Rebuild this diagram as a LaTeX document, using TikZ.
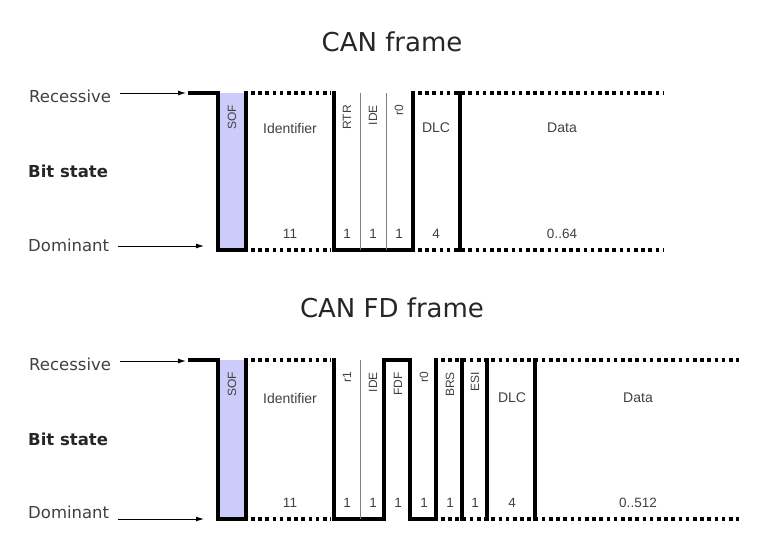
\documentclass[tikz,border=0pt]{standalone}
\usepackage{fontspec}
\setmainfont{Liberation Sans}
\newfontfamily\verdana{DejaVu Sans}
\usetikzlibrary{arrows.meta,positioning}
\definecolor{sofblue}{RGB}{204,204,250}
\definecolor{txtgray}{RGB}{64,64,64}

\begin{document}
\begin{tikzpicture}[
  x=1pt, y=-1pt,
  title/.style={font=\verdana\fontsize{26}{30}\selectfont, text=black!85},
  side/.style={font=\verdana\fontsize{16.5}{19}\selectfont, text=black!75, anchor=west, inner sep=0pt},
  sidebold/.style={side, font=\verdana\bfseries\fontsize{16.5}{19}\selectfont, text=black!85},
  field/.style={font=\fontsize{14}{16}\selectfont, text=txtgray},
  vfield/.style={font=\fontsize{12}{14}\selectfont, text=txtgray, rotate=90, anchor=east, inner sep=0pt},
  num/.style={font=\fontsize{13.5}{16}\selectfont, text=txtgray},
  level/.style={line width=3.6pt, line cap=rect, line join=miter},
  anylvl/.style={line width=3.6pt, dash pattern=on 3.5pt off 3.7pt},
  sep/.style={gray, line width=0.8pt},
  arr/.style={-{Latex[length=8pt, width=5pt]}, line width=1pt}
]
\useasboundingbox (0,0) rectangle (768,543);

% CAN frame
\node[title] (title1) at (392,42) {CAN frame};
\node[side] (rec1) at (29,96) {Recessive};
\node[sidebold] (bit1) at (28,171) {Bit state};
\node[side] (dom1) at (28,245) {Dominant};
\coordinate (recin1) at (186,93);
\coordinate (domin1) at (204,246);
\draw[arr] (rec1.east |- recin1) ++(9,0) -- (recin1);
\draw[arr] (dom1.east |- domin1) ++(9,0) -- (domin1);

\fill[sofblue] (218,93) rectangle (246,250);
\draw[level] (190,93) -- (218,93) -- (218,250) -- (246,250) -- (246,93);
\draw[anylvl] (251,93) -- (331,93) (251,250) -- (331,250);
\draw[level] (334,93) -- (334,250) -- (413,250) -- (413,93);
\draw[sep] (360,93) -- (360,250) (386,93) -- (386,250);
\draw[anylvl] (418,93) -- (663,93) (418,250) -- (663,250);
\draw[level] (460,93) -- (460,250);

\node[vfield] (sof1) at (232,105) {SOF};
\node[field] (id1) at (290,128) {Identifier};
\node[vfield] (rtr1) at (347,105) {RTR};
\node[vfield] (ide1) at (373,105) {IDE};
\node[vfield] (rzero1) at (399,105) {r0};
\node[field] (dlc1) at (436,128) {DLC};
\node[field] (data1) at (562,128) {Data};
\foreach \x/\n in {290/11, 347/1, 373/1, 399/1, 436/4, 562/{0..64}}
  \node[num] (len1-\x) at (\x,234) {\n};

% CAN FD frame
\node[title] (title2) at (392,308) {CAN FD frame};
\node[side] (rec2) at (29,364) {Recessive};
\node[sidebold] (bit2) at (28,439) {Bit state};
\node[side] (dom2) at (28,512) {Dominant};
\coordinate (recin2) at (186,361);
\coordinate (domin2) at (204,519);
\draw[arr] (rec2.east |- recin2) ++(9,0) -- (recin2);
\draw[arr] (dom2.east |- domin2) ++(9,0) -- (domin2);

\fill[sofblue] (218,360) rectangle (246,519);
\draw[level] (190,360) -- (218,360) -- (218,519) -- (246,519) -- (246,360);
\draw[anylvl] (251,360) -- (331,360) (251,519) -- (331,519);
\draw[level] (334,360) -- (334,519) -- (384,519) -- (384,360) -- (410,360)
  -- (410,519) -- (436,519) -- (436,360);
\draw[sep] (360,360) -- (360,519);
\draw[anylvl] (441,360) -- (739,360) (441,519) -- (739,519);
\draw[level] (462,360) -- (462,519) (487,360) -- (487,519) (535,360) -- (535,519);

\node[vfield] (sof2) at (232,372) {SOF};
\node[field] (id2) at (290,398) {Identifier};
\node[vfield] (rone2) at (347,372) {r1};
\node[vfield] (ide2) at (373,372) {IDE};
\node[vfield] (fdf2) at (398,372) {FDF};
\node[vfield] (rzero2) at (424,372) {r0};
\node[vfield] (brs2) at (450,372) {BRS};
\node[vfield] (esi2) at (475,372) {ESI};
\node[field] (dlc2) at (512,398) {DLC};
\node[field] (data2) at (638,398) {Data};
\foreach \x/\n in {290/11, 347/1, 373/1, 398/1, 424/1, 450/1, 475/1, 512/4, 638/{0..512}}
  \node[num] (len2-\x) at (\x,503) {\n};
\end{tikzpicture}
\end{document}
